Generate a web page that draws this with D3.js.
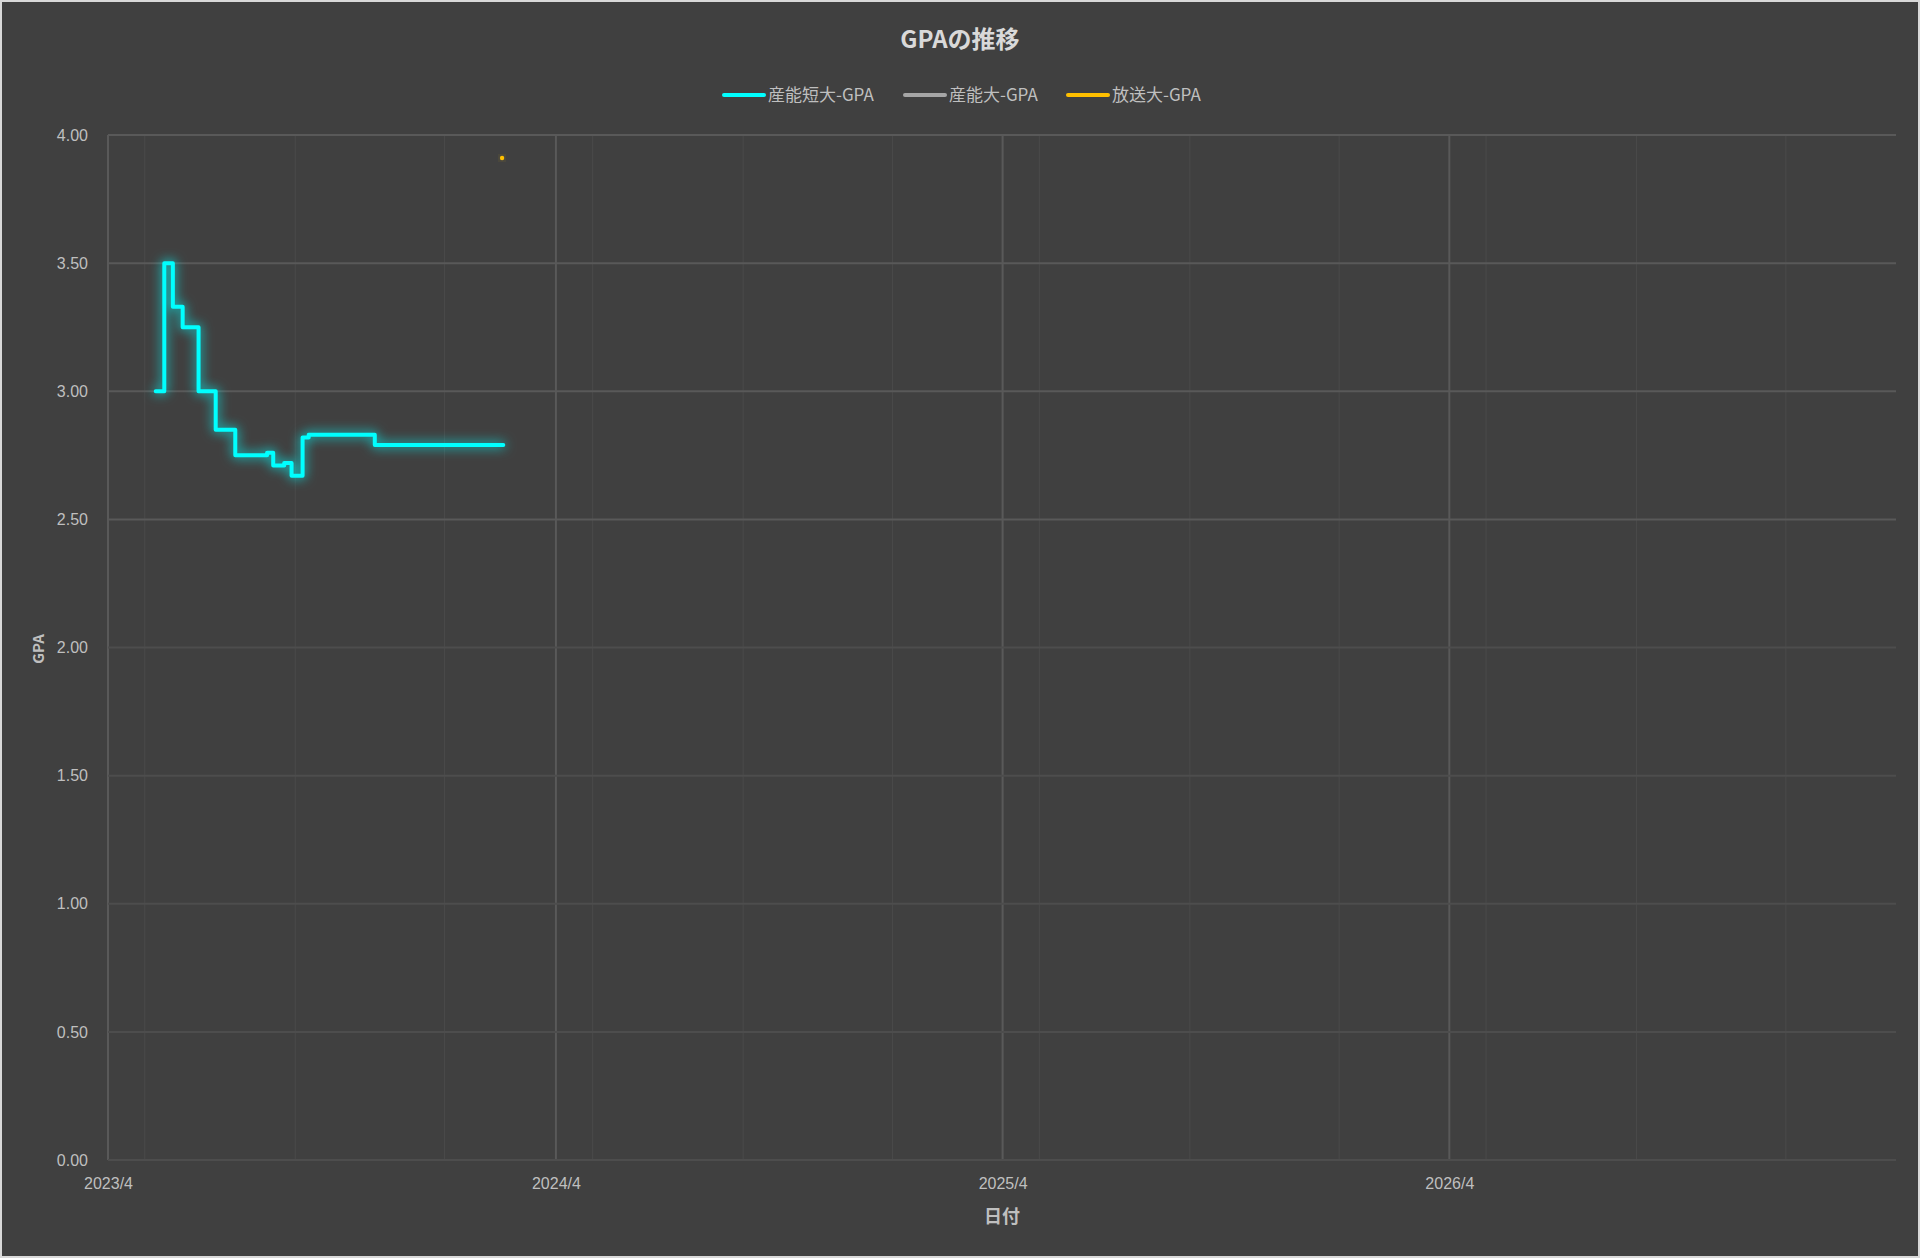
<!DOCTYPE html>
<html>
<head>
<meta charset="utf-8">
<script src="https://cdn.jsdelivr.net/npm/d3@7"></script>
<style>
  body { margin: 0; background: #404040; }
  svg { display: block; font-family: "Noto Sans CJK JP", "Noto Sans", sans-serif; }
</style>
</head>
<body>
<svg id="chart" width="1920" height="1258"></svg>
<script>
// 産能短大-GPA: change points (date, GPA), drawn as steps
const tandaiDates = ['2023-05-10','2023-05-17','2023-05-24','2023-06-01','2023-06-14','2023-06-28','2023-07-14',
  '2023-08-09','2023-08-14','2023-08-23','2023-08-29','2023-09-07','2023-09-12','2023-11-05','2024-02-18'];
const tandaiGpa = [3.00, 3.50, 3.33, 3.25, 3.00, 2.85, 2.75, 2.76, 2.71, 2.72, 2.67, 2.82, 2.83, 2.79, 2.79];
// 放送大-GPA: a single point
const housouDates = ['2024-02-17'];
const housouGpa = [3.91];
// 産能大-GPA: no values
const sannouDates = [];
const sannouGpa = [];

const seriesNames = ['産能短大-GPA', '産能大-GPA', '放送大-GPA'];
const seriesColors = ['#00ffff', '#a6a6a6', '#ffc000'];
const yTicks = [0, 0.5, 1, 1.5, 2, 2.5, 3, 3.5, 4];

const parse = d3.timeParse('%Y-%m-%d');
const W = 1920, H = 1258;
const margin = {top: 135, right: 24, bottom: 98, left: 108};
const width = W - margin.left - margin.right;
const height = H - margin.top - margin.bottom;
const textColor = '#bfbfbf';

const svg = d3.select('#chart');
svg.append('rect').attr('x', 1).attr('y', 1).attr('width', W - 2).attr('height', H - 2)
    .attr('fill', '#404040').attr('stroke', '#d9d9d9').attr('stroke-width', 2);

const defs = svg.append('defs');
const glow = defs.append('filter').attr('id', 'glow')
    .attr('x', '-20%').attr('y', '-20%').attr('width', '140%').attr('height', '140%');
glow.append('feGaussianBlur').attr('in', 'SourceGraphic').attr('stdDeviation', 6).attr('result', 'blur');
const merge = glow.append('feMerge');
merge.append('feMergeNode').attr('in', 'blur');
merge.append('feMergeNode').attr('in', 'SourceGraphic');

const chart = svg.append('g').attr('transform', `translate(${margin.left},${margin.top})`);

const xScale = d3.scaleTime().domain([parse('2023-04-01'), parse('2027-04-01')]).range([0, width]);
const yScale = d3.scaleLinear().domain([0, 4]).range([height, 0]);

// minor vertical gridlines every 4 months, major each year
const minorTicks = d3.timeMonth.every(4).range(parse('2023-04-01'), parse('2027-04-02'));
chart.append('g').selectAll('line').data(minorTicks).join('line')
    .attr('x1', d => xScale(d)).attr('x2', d => xScale(d))
    .attr('y1', 0).attr('y2', height)
    .attr('stroke', '#4a4a4a').attr('stroke-width', 1);

const xTicks = d3.timeYear.every(1).range(parse('2023-01-01'), parse('2027-01-01'))
    .map(d => d3.timeMonth.offset(d, 3));
chart.append('g').selectAll('line').data(xTicks).join('line')
    .attr('x1', d => xScale(d)).attr('x2', d => xScale(d))
    .attr('y1', 0).attr('y2', height)
    .attr('stroke', '#595959').attr('stroke-width', 2);

chart.append('g').selectAll('line').data(yTicks).join('line')
    .attr('x1', 0).attr('x2', width)
    .attr('y1', d => yScale(d)).attr('y2', d => yScale(d))
    .attr('stroke', d => d >= 2.5 ? '#595959' : '#4d4d4d').attr('stroke-width', 2);

// axes
const yAxis = d3.axisLeft(yScale).tickValues(yTicks).tickFormat(d3.format('.2f')).tickSize(0).tickPadding(20);
const yAxisG = chart.append('g').call(yAxis);
yAxisG.select('.domain').remove();
yAxisG.selectAll('text').attr('fill', textColor).style('font-size', '16px');

const xAxis = d3.axisBottom(xScale).tickValues(xTicks).tickFormat(d3.timeFormat('%Y/%-m')).tickSize(0).tickPadding(18);
const xAxisG = chart.append('g').attr('transform', `translate(0,${height})`).call(xAxis);
xAxisG.select('.domain').remove();
xAxisG.selectAll('text').attr('fill', textColor).style('font-size', '16px');

// series
const tandai = tandaiDates.map((d, i) => ({date: parse(d), value: tandaiGpa[i]}));
const line = d3.line().x(d => xScale(d.date)).y(d => yScale(d.value)).curve(d3.curveStepAfter);
chart.append('path').datum(tandai)
    .attr('d', line).attr('fill', 'none')
    .attr('stroke', seriesColors[0]).attr('stroke-width', 4)
    .attr('stroke-linejoin', 'round').attr('stroke-linecap', 'round')
    .attr('filter', 'url(#glow)');

const housou = housouDates.map((d, i) => ({date: parse(d), value: housouGpa[i]}));
chart.append('g').selectAll('circle').data(housou).join('circle')
    .attr('cx', d => xScale(d.date)).attr('cy', d => yScale(d.value)).attr('r', 2.2)
    .attr('fill', seriesColors[2]).attr('filter', 'url(#glow)');

// title & labels
svg.append('text').attr('x', 960).attr('y', 48).attr('text-anchor', 'middle')
    .attr('fill', '#d9d9d9').style('font-size', '24px').style('font-weight', 'bold').text('GPAの推移');
svg.append('text').attr('x', 1002).attr('y', 1223).attr('text-anchor', 'middle')
    .attr('fill', textColor).style('font-size', '18px').style('font-weight', 'bold').text('日付');
svg.append('text').attr('transform', 'translate(44,649) rotate(-90)').attr('text-anchor', 'middle')
    .attr('fill', textColor).style('font-size', '15px').style('font-weight', 'bold').text('GPA');

// legend
const legendX = [724, 905, 1068];
const legend = svg.append('g').selectAll('g').data(seriesNames).join('g')
    .attr('transform', (d, i) => `translate(${legendX[i]},95)`);
legend.append('line').attr('x1', 0).attr('x2', 40).attr('y1', 0).attr('y2', 0)
    .attr('stroke', (d, i) => seriesColors[i]).attr('stroke-width', 4).attr('stroke-linecap', 'round');
legend.append('text').attr('x', 44).attr('y', 6).attr('fill', textColor)
    .style('font-size', '17px').text(d => d);
</script>
</body>
</html>
